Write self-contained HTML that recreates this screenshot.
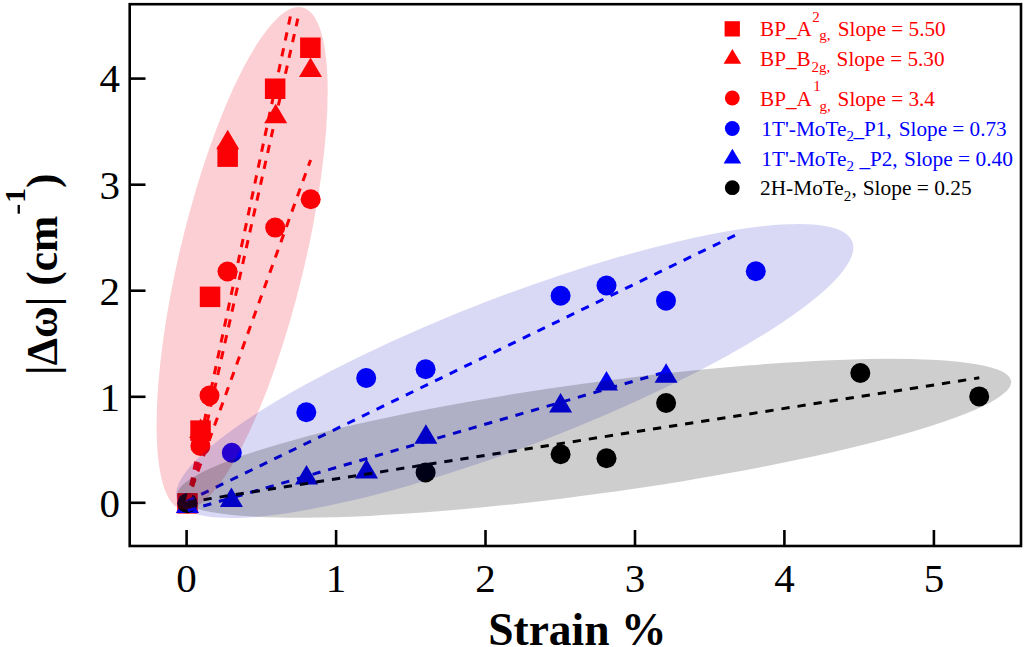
<!DOCTYPE html>
<html><head><meta charset="utf-8"><style>
html,body{margin:0;padding:0;background:#fff;width:1025px;height:647px;overflow:hidden}
svg{display:block;font-family:"Liberation Serif",serif}
</style></head><body>
<svg width="1025" height="647" viewBox="0 0 1025 647">
<g><rect x="177.2" y="493.1" width="20.5" height="20.5" fill="#ff0000"/><rect x="190.3" y="420.4" width="20.5" height="20.5" fill="#ff0000"/><rect x="199.8" y="286.6" width="20.5" height="20.5" fill="#ff0000"/><rect x="217.4" y="146.4" width="20.5" height="20.5" fill="#ff0000"/><rect x="264.9" y="78.5" width="20.5" height="20.5" fill="#ff0000"/><rect x="300.1" y="37.5" width="20.5" height="20.5" fill="#ff0000"/><path d="M187.4 493.6L198.9 513.0L175.9 513.0Z" fill="#ff0000"/><path d="M200.6 418.4L212.1 437.9L189.1 437.9Z" fill="#ff0000"/><path d="M227.7 129.8L239.2 149.3L216.2 149.3Z" fill="#ff0000"/><path d="M275.7 103.7L287.2 123.2L264.2 123.2Z" fill="#ff0000"/><path d="M310.5 57.5L322.0 77.0L299.0 77.0Z" fill="#ff0000"/><circle cx="187.4" cy="503.3" r="10.0" fill="#ff0000"/><circle cx="200.4" cy="445.9" r="10.0" fill="#ff0000"/><circle cx="209.5" cy="395.6" r="10.0" fill="#ff0000"/><circle cx="227.5" cy="271.5" r="10.0" fill="#ff0000"/><circle cx="275.2" cy="227.6" r="10.0" fill="#ff0000"/><circle cx="310.7" cy="199.2" r="10.0" fill="#ff0000"/><circle cx="187.4" cy="503.3" r="10.0" fill="#0000ff"/><circle cx="231.8" cy="452.7" r="10.0" fill="#0000ff"/><circle cx="306.3" cy="412.2" r="10.0" fill="#0000ff"/><circle cx="366.2" cy="378.0" r="10.0" fill="#0000ff"/><circle cx="425.6" cy="369.2" r="10.0" fill="#0000ff"/><circle cx="560.6" cy="295.7" r="10.0" fill="#0000ff"/><circle cx="606.5" cy="285.5" r="10.0" fill="#0000ff"/><circle cx="666.0" cy="300.8" r="10.0" fill="#0000ff"/><circle cx="755.8" cy="271.3" r="10.0" fill="#0000ff"/><path d="M187.4 493.6L198.9 513.0L175.9 513.0Z" fill="#0000ff"/><path d="M231.4 487.4L242.9 506.9L219.9 506.9Z" fill="#0000ff"/><path d="M306.5 465.1L318.0 484.6L295.0 484.6Z" fill="#0000ff"/><path d="M366.5 458.9L378.0 478.4L355.0 478.4Z" fill="#0000ff"/><path d="M425.9 424.2L437.4 443.8L414.4 443.8Z" fill="#0000ff"/><path d="M560.6 393.1L572.1 412.6L549.1 412.6Z" fill="#0000ff"/><path d="M606.5 370.9L618.0 390.4L595.0 390.4Z" fill="#0000ff"/><path d="M666.1 363.2L677.6 382.8L654.6 382.8Z" fill="#0000ff"/><circle cx="187.4" cy="503.3" r="10.0" fill="#000000"/><circle cx="425.6" cy="472.5" r="10.0" fill="#000000"/><circle cx="560.6" cy="454.3" r="10.0" fill="#000000"/><circle cx="606.5" cy="458.3" r="10.0" fill="#000000"/><circle cx="666.1" cy="403.0" r="10.0" fill="#000000"/><circle cx="860.3" cy="373.0" r="10.0" fill="#000000"/><circle cx="979.2" cy="396.4" r="10.0" fill="#000000"/></g>
<g><line x1="187.0" y1="502.8" x2="290.35" y2="16.5" stroke="#ff0000" stroke-width="3" stroke-dasharray="8.3 7.95" stroke-dashoffset="14.87"/><line x1="189.0" y1="502.8" x2="297.85" y2="18.6" stroke="#ff0000" stroke-width="3" stroke-dasharray="8.3 7.95" stroke-dashoffset="15.26"/><line x1="186.6" y1="502.8" x2="310.6" y2="159.9" stroke="#ff0000" stroke-width="3" stroke-dasharray="8.3 7.95" stroke-dashoffset="15.37"/><line x1="186.6" y1="501.5" x2="737" y2="234.4" stroke="#0000ff" stroke-width="3" stroke-dasharray="8.3 7.95" stroke-dashoffset="0.04"/><line x1="186.6" y1="510.9" x2="666" y2="371.8" stroke="#0000ff" stroke-width="3" stroke-dasharray="8.3 7.95" stroke-dashoffset="15.11"/><line x1="186.6" y1="502.3" x2="979.3" y2="377.8" stroke="#000000" stroke-width="3" stroke-dasharray="8.3 7.95" stroke-dashoffset="15.39"/></g>
<g><ellipse cx="0" cy="0" rx="258.14" ry="62.37" transform="translate(242.12 258.38) rotate(-76.478)" fill="#ea0017" fill-opacity="0.19"/><ellipse cx="0" cy="0" rx="361.56" ry="74.9" transform="translate(514.76 371.0) rotate(-20.977)" fill="#0000bc" fill-opacity="0.15"/><ellipse cx="0" cy="0" rx="420.85" ry="55.58" transform="translate(594.26 438.3) rotate(-7.825)" fill="#000000" fill-opacity="0.192"/></g>
<g><rect x="129.7" y="4.2" width="891.3" height="541.8" fill="none" stroke="#000" stroke-width="2.6"/><line x1="129.7" y1="502.8" x2="145.5" y2="502.8" stroke="#000" stroke-width="2.6"/><line x1="129.7" y1="396.8" x2="145.5" y2="396.8" stroke="#000" stroke-width="2.6"/><line x1="129.7" y1="290.7" x2="145.5" y2="290.7" stroke="#000" stroke-width="2.6"/><line x1="129.7" y1="184.7" x2="145.5" y2="184.7" stroke="#000" stroke-width="2.6"/><line x1="129.7" y1="78.6" x2="145.5" y2="78.6" stroke="#000" stroke-width="2.6"/><line x1="186.6" y1="546" x2="186.6" y2="530" stroke="#000" stroke-width="2.6"/><line x1="336.1" y1="546" x2="336.1" y2="530" stroke="#000" stroke-width="2.6"/><line x1="485.5" y1="546" x2="485.5" y2="530" stroke="#000" stroke-width="2.6"/><line x1="635.0" y1="546" x2="635.0" y2="530" stroke="#000" stroke-width="2.6"/><line x1="784.4" y1="546" x2="784.4" y2="530" stroke="#000" stroke-width="2.6"/><line x1="933.9" y1="546" x2="933.9" y2="530" stroke="#000" stroke-width="2.6"/></g>
<g><text x="120" y="516.6" text-anchor="end" font-size="41">0</text><text x="120" y="410.6" text-anchor="end" font-size="41">1</text><text x="120" y="304.5" text-anchor="end" font-size="41">2</text><text x="120" y="198.5" text-anchor="end" font-size="41">3</text><text x="120" y="92.4" text-anchor="end" font-size="41">4</text><text x="186.6" y="592.2" text-anchor="middle" font-size="41">0</text><text x="336.1" y="592.2" text-anchor="middle" font-size="41">1</text><text x="485.5" y="592.2" text-anchor="middle" font-size="41">2</text><text x="635.0" y="592.2" text-anchor="middle" font-size="41">3</text><text x="784.4" y="592.2" text-anchor="middle" font-size="41">4</text><text x="933.9" y="592.2" text-anchor="middle" font-size="41">5</text><text x="577.3" y="645.2" text-anchor="middle" font-size="45.5" font-weight="bold">Strain %</text><text transform="translate(56.6 374.9) rotate(-90)" font-size="43.5" font-weight="bold">|&#916;&#969;| (cm</text><rect x="17.6" y="204.9" width="2.3" height="8.8" fill="#000"/><text transform="translate(25 203) rotate(-90)" font-size="30" font-weight="bold">1</text><text transform="translate(56.6 188.1) rotate(-90)" font-size="43.5" font-weight="bold">)</text></g>
<g><text x="760.1" y="36.3" font-size="21.2" fill="#ff0000" >BP_A</text><text x="812.2" y="21.7" font-size="15" fill="#ff0000" >2</text><text x="819.3" y="40.2" font-size="15" fill="#ff0000" >g,</text><text x="837.8" y="36.3" font-size="21.2" fill="#ff0000" >Slope = 5.50</text><text x="760.1" y="66.3" font-size="21.2" fill="#ff0000" >BP_B</text><text x="811.4" y="72.2" font-size="15" fill="#ff0000" >2g,</text><text x="836.6" y="66.3" font-size="21.2" fill="#ff0000" >Slope = 5.30</text><text x="760.1" y="106.2" font-size="21.2" fill="#ff0000" >BP_A</text><text x="813.2" y="90.6" font-size="15" fill="#ff0000" >1</text><text x="819.4" y="110.8" font-size="15" fill="#ff0000" >g,</text><text x="837.6" y="106.2" font-size="21.2" fill="#ff0000" >Slope = 3.4</text><text x="761.3" y="135.5" font-size="21.3" fill="#0000ff" >1T'-MoTe</text><text x="846.4" y="141" font-size="15" fill="#0000ff" >2</text><text x="853.4" y="135.5" font-size="21.2" fill="#0000ff" >_P1,</text><text x="898.8" y="135.5" font-size="21.2" fill="#0000ff" >Slope = 0.73</text><text x="761.3" y="165.5" font-size="21.3" fill="#0000ff" >1T'-MoTe</text><text x="846.6" y="171" font-size="15" fill="#0000ff" >2</text><text x="859.4" y="165.5" font-size="21.2" fill="#0000ff" >_P2,</text><text x="904.0" y="165.5" font-size="21.4" fill="#0000ff" >Slope = 0.40</text><text x="760.1" y="194.8" font-size="21.3" fill="#000000" >2H-MoTe</text><text x="843.8" y="201" font-size="15" fill="#000000" >2</text><text x="851.6" y="194.8" font-size="21.2" fill="#000000" >,</text><text x="862.7" y="194.8" font-size="21.4" fill="#000000" >Slope = 0.25</text><rect x="724.6" y="21.2" width="15.3" height="15.3" fill="#ff0000"/><path d="M732.4 49.1L741.2 63.8L723.6 63.8Z" fill="#ff0000"/><circle cx="732.3" cy="98.0" r="7.4" fill="#ff0000"/><circle cx="732.3" cy="128.5" r="7.4" fill="#0000ff"/><path d="M732.4 148.7L741.2 163.4L723.6 163.4Z" fill="#0000ff"/><circle cx="732.3" cy="187.7" r="7.4" fill="#000000"/></g>
</svg>
</body></html>
